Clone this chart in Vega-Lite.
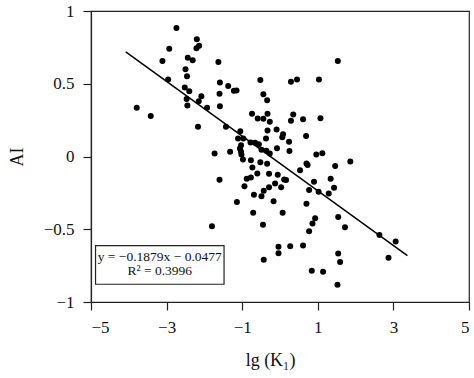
{
  "$schema": "https://vega.github.io/schema/vega-lite/v6.json",
  "autosize": "none",
  "width": 378,
  "height": 291,
  "padding": {"left": 91, "top": 11, "right": 5, "bottom": 76},
  "background": "white",
  "config": {
    "font": "Liberation Serif",
    "view": {"stroke": "#222", "strokeWidth": 1.2},
    "axis": {
      "grid": false,
      "domainColor": "#222",
      "domainWidth": 1.2,
      "tickColor": "#222",
      "tickWidth": 1.2,
      "tickSize": 8,
      "labelFont": "Liberation Serif",
      "labelFontSize": 17,
      "labelColor": "#111",
      "titleFont": "Liberation Serif",
      "titleFontSize": 18,
      "titleFontWeight": "normal",
      "titleColor": "#111"
    }
  },
  "datasets": {
    "points": [
      {"x": -2.74, "y": 0.883}, {"x": -2.20, "y": 0.806}, {"x": -2.14, "y": 0.762}, {"x": -2.21, "y": 0.744},
      {"x": -2.93, "y": 0.740}, {"x": -3.11, "y": 0.657}, {"x": -2.44, "y": 0.679}, {"x": -2.31, "y": 0.662},
      {"x": -1.63, "y": 0.650}, {"x": -2.50, "y": 0.600}, {"x": -2.46, "y": 0.552}, {"x": -2.96, "y": 0.529},
      {"x": -1.59, "y": 0.509}, {"x": -1.37, "y": 0.485}, {"x": -2.52, "y": 0.474}, {"x": -2.40, "y": 0.449},
      {"x": -1.22, "y": 0.452}, {"x": -1.15, "y": 0.453}, {"x": -1.60, "y": 0.432}, {"x": -2.08, "y": 0.414},
      {"x": -2.47, "y": 0.396}, {"x": -2.15, "y": 0.379}, {"x": -2.45, "y": 0.351}, {"x": -1.93, "y": 0.335},
      {"x": -1.59, "y": 0.346}, {"x": -3.79, "y": 0.335}, {"x": -3.42, "y": 0.279}, {"x": -2.17, "y": 0.205},
      {"x": -1.43, "y": 0.205}, {"x": -1.05, "y": 0.173}, {"x": -1.11, "y": 0.124}, {"x": -0.52, "y": 0.526},
      {"x": -0.44, "y": 0.427}, {"x": -0.34, "y": 0.387}, {"x": -0.74, "y": 0.294}, {"x": -0.59, "y": 0.262},
      {"x": -0.44, "y": 0.260}, {"x": -0.33, "y": 0.293}, {"x": -0.27, "y": 0.239}, {"x": -0.09, "y": 0.186},
      {"x": -0.33, "y": 0.179}, {"x": -0.37, "y": 0.124}, {"x": 1.53, "y": 0.656}, {"x": 0.29, "y": 0.514},
      {"x": 0.45, "y": 0.530}, {"x": 1.03, "y": 0.530}, {"x": 0.35, "y": 0.289}, {"x": 0.29, "y": 0.245},
      {"x": 0.61, "y": 0.256}, {"x": 1.07, "y": 0.263}, {"x": 0.08, "y": 0.153}, {"x": 0.06, "y": 0.133},
      {"x": 0.69, "y": 0.141}, {"x": 0.24, "y": 0.102}, {"x": 0.25, "y": 0.037}, {"x": -0.08, "y": 0.057},
      {"x": -0.97, "y": 0.124}, {"x": -0.78, "y": 0.096}, {"x": -0.66, "y": 0.094}, {"x": -0.56, "y": 0.085},
      {"x": -1.03, "y": 0.078}, {"x": -1.06, "y": 0.055}, {"x": -1.03, "y": 0.032}, {"x": -1.02, "y": 0.014},
      {"x": -0.49, "y": 0.047}, {"x": -0.36, "y": 0.040}, {"x": -0.27, "y": 0.021}, {"x": -1.73, "y": 0.020},
      {"x": -1.32, "y": 0.032}, {"x": -0.98, "y": -0.020}, {"x": -0.77, "y": -0.025}, {"x": -0.52, "y": -0.039},
      {"x": -0.34, "y": -0.050}, {"x": -0.73, "y": -0.075}, {"x": -0.60, "y": -0.116}, {"x": -0.77, "y": -0.144},
      {"x": -0.88, "y": -0.153}, {"x": -0.29, "y": -0.119}, {"x": -0.06, "y": -0.126}, {"x": 0.11, "y": -0.158},
      {"x": 0.16, "y": -0.162}, {"x": -1.60, "y": -0.159}, {"x": -0.13, "y": -0.185}, {"x": -0.29, "y": -0.212},
      {"x": -0.43, "y": -0.236}, {"x": 0.03, "y": -0.212}, {"x": -0.94, "y": -0.204}, {"x": -0.69, "y": -0.263},
      {"x": -0.49, "y": -0.274}, {"x": -0.17, "y": -0.307}, {"x": -1.14, "y": -0.313}, {"x": -0.71, "y": -0.386},
      {"x": 0.07, "y": -0.386}, {"x": 0.70, "y": -0.324}, {"x": 0.77, "y": -0.231}, {"x": 0.90, "y": -0.174},
      {"x": 0.70, "y": -0.048}, {"x": 0.73, "y": -0.059}, {"x": 0.53, "y": -0.094}, {"x": 0.96, "y": 0.013},
      {"x": 1.12, "y": 0.022}, {"x": 1.46, "y": -0.066}, {"x": 1.86, "y": -0.034}, {"x": 1.34, "y": -0.153},
      {"x": 1.43, "y": -0.215}, {"x": 1.02, "y": -0.243}, {"x": 1.29, "y": -0.255}, {"x": -1.80, "y": -0.480},
      {"x": -0.45, "y": -0.469}, {"x": 0.93, "y": -0.425}, {"x": 0.86, "y": -0.461}, {"x": 0.77, "y": -0.513},
      {"x": 1.54, "y": -0.415}, {"x": 1.72, "y": -0.487}, {"x": -0.04, "y": -0.620}, {"x": -0.04, "y": -0.665},
      {"x": 0.27, "y": -0.616}, {"x": 0.61, "y": -0.611}, {"x": -0.43, "y": -0.710}, {"x": 0.84, "y": -0.785},
      {"x": 1.14, "y": -0.792}, {"x": 1.54, "y": -0.666}, {"x": 1.59, "y": -0.725}, {"x": 1.52, "y": -0.881},
      {"x": 2.63, "y": -0.539}, {"x": 3.06, "y": -0.585}, {"x": 2.87, "y": -0.696}
    ],
    "fit": [
      {"x": -4.08, "y": 0.719},
      {"x": 3.37, "y": -0.681}
    ],
    "box": [
      {"x": -4.88, "x2": -1.48, "y": -0.613, "y2": -0.878}
    ],
    "eq": [
      {"x": -3.18, "y": -0.716, "label": "y = −0.1879x − 0.0477"},
      {"x": -3.18, "y": -0.815, "label": "R² = 0.3996"}
    ]
  },
  "layer": [
    {
      "data": {"name": "points"},
      "mark": {"type": "point", "filled": true, "color": "#000", "size": 36, "opacity": 1},
      "encoding": {
        "x": {
          "field": "x", "type": "quantitative",
          "scale": {"domain": [-5, 5], "nice": false, "zero": false},
          "axis": {
            "values": [-5, -3, -1, 1, 3, 5],
            "format": "~g",
            "labelFont": "Liberation Serif",
            "title": "lg (K₁)",
            "labelPadding": 9,
            "titleX": 179,
            "titleY": 58,
            "titleAnchor": null,
            "titleBaseline": "middle"
          }
        },
        "y": {
          "field": "y", "type": "quantitative",
          "scale": {"domain": [-1, 1], "nice": false, "zero": false},
          "axis": {
            "values": [-1, -0.5, 0, 0.5, 1],
            "format": "~g",
            "labelFont": "Liberation Serif",
            "title": "AI",
            "labelPadding": 9,
            "titleX": -74,
            "titleY": 145.5,
            "titleAngle": -90,
            "titleAlign": "center",
            "titleBaseline": "middle"
          }
        }
      }
    },
    {
      "data": {"name": "fit"},
      "mark": {"type": "line", "color": "#000", "strokeWidth": 1.5},
      "encoding": {
        "x": {"field": "x", "type": "quantitative"},
        "y": {"field": "y", "type": "quantitative"}
      }
    },
    {
      "data": {"name": "box"},
      "mark": {"type": "rect", "fill": "white", "stroke": "#222", "strokeWidth": 1.2},
      "encoding": {
        "x": {"field": "x", "type": "quantitative"},
        "x2": {"field": "x2"},
        "y": {"field": "y", "type": "quantitative"},
        "y2": {"field": "y2"}
      }
    },
    {
      "data": {"name": "eq"},
      "mark": {"type": "text", "font": "Liberation Serif", "fontSize": 13.5, "color": "#111", "align": "center", "baseline": "alphabetic"},
      "encoding": {
        "x": {"field": "x", "type": "quantitative"},
        "y": {"field": "y", "type": "quantitative"},
        "text": {"field": "label"}
      }
    }
  ]
}
